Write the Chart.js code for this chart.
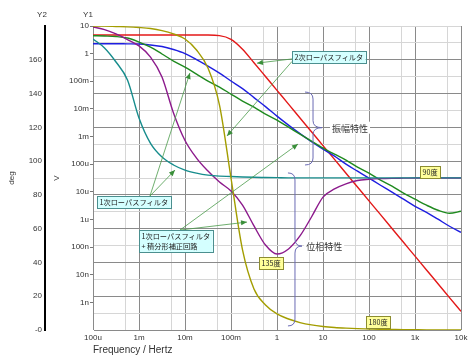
<!DOCTYPE html>
<html><head><meta charset="utf-8">
<script src="https://cdn.jsdelivr.net/npm/chart.js@4.4.1/dist/chart.umd.min.js"></script>
<style>html,body{margin:0;padding:0;background:#fff;}canvas{display:block;}</style>
</head><body>
<canvas id="c" width="474" height="360"></canvas>
<script>
// ---- data ----
const freqs = [1e-4,1.78e-4,3.16e-4,5.62e-4,1e-3,1.78e-3,3.16e-3,5.62e-3,0.01,0.0178,0.0316,0.0562,0.1,0.178,0.316,0.562,1,1.78,3.16,5.62,10,17.8,31.6,56.2,100,178,316,562,1000,1780,3160,5620,10000];
// amplitude (V)
const lpf2Mag = [4.7,4.7,4.7,4.7,4.7,4.7,4.7,4.7,4.7,4.7,4.7,4.5,3.3,1.45,0.47,0.149,0.047,0.0149,0.0047,0.00149,4.7e-4,1.49e-4,4.7e-5,1.49e-5,4.7e-6,1.49e-6,4.7e-7,1.49e-7,4.7e-8,1.49e-8,4.7e-9,1.49e-9,4.7e-10];
const lpf1Mag = [4.46,4.35,4.17,3.67,2.63,1.73,0.97,0.54,0.327,0.182,0.102,0.0616,0.0344,0.0192,0.0116,0.00648,0.00393,0.00219,0.00122,6.8e-4,3.8e-4,2.3e-4,1.4e-4,7.8e-5,4.72e-5,2.63e-5,1.6e-5,8.9e-6,5.4e-6,3.27e-6,2.15e-6,1.68e-6,1.98e-6];
const compMag = [2.29,2.29,2.29,2.26,2.23,2.05,1.81,1.41,1.01,0.611,0.356,0.198,0.102,0.0544,0.0257,0.0121,0.00548,0.00259,0.00127,6.5e-4,3.5e-4,1.95e-4,1.0e-4,5.57e-5,3.11e-5,1.73e-5,9.7e-6,5.4e-6,3.0e-6,1.82e-6,1.02e-6,5.67e-7,3.43e-7];
// phase (deg, shifted by +180)
const lpf1Phase = [172.3,167.0,158.7,148.0,125.5,110.5,102.4,97.7,94.7,92.9,91.7,91.1,90.9,90.6,90.4,90.3,90.2,90.1,90.1,90.1,90.1,90.1,90.1,90.1,90.1,90.1,90.1,90.1,90.1,90.1,90.1,90.1,90.1];
const lpf2Phase = [179.9,179.9,179.7,179.5,179.1,178.5,177.3,175.3,172.3,165.8,155.1,133.2,90.0,47.4,24.3,14.8,9.5,6.5,4.4,3.0,2.1,1.5,1.1,0.8,0.6,0.4,0.3,0.2,0.15,0.1,0.08,0.06,0.04];
const compPhase = [179.4,177.9,175.3,172.0,168.2,161.6,149.8,128.5,112.2,101.8,94.1,87.6,82.3,74.0,61.6,50.3,45.0,48.0,55.7,66.9,78.7,83.5,86.5,88.5,89.2,89.6,89.8,89.9,90.0,90.0,90.0,90.0,90.0];

const xTickValues = [1e-4,5e-4,1e-3,5e-3,1e-2,5e-2,0.1,0.5,1,5,10,50,100,500,1000,5000,10000];
const xTickLabels = ['100u','','1m','','10m','','100m','','1','','10','','100','','1k','','10k'];
const y1TickValues = [10,1,0.1,0.01,1e-3,1e-4,1e-5,1e-6,1e-7,1e-8,1e-9];
const y1TickLabels = ['10','1','100m','10m','1m','100u','10u','1u','100n','10n','1n'];
const y2TickValues = [0,10,20,30,40,50,60,70,80,90,100,110,120,130,140,150,160,170,180];
const y2TickLabels = ['-0','','20','','40','','60','','80','','100','','120','','140','','160','',''];

// ---- chart ----
const FONT = '"Liberation Sans", Arial, sans-serif';
const JP = '"Noto Sans CJK JP", "Noto Sans CJK SC", sans-serif';
Chart.defaults.font.family = FONT;
Chart.defaults.font.size = 8;
Chart.defaults.color = '#333';

const pts = arr => freqs.map((f, i) => ({x: f, y: arr[i]}));
const DARK = '#8a8a8a', LIGHT = '#d6d6d6';
const isDecade = v => Math.abs(Math.log10(v) - Math.round(Math.log10(v))) < 1e-6;

function box(ctx, x, y, lines, bg, border, font) {
  ctx.font = font;
  let w = 0; lines.forEach(t => { w = Math.max(w, ctx.measureText(t).width); });
  const lh = 10, h = lines.length * lh + 2;
  ctx.fillStyle = bg; ctx.fillRect(x, y, w + 5, h);
  ctx.strokeStyle = border; ctx.lineWidth = 1;
  ctx.strokeRect(Math.round(x) + 0.5, Math.round(y) + 0.5, Math.round(w + 5), Math.round(h));
  ctx.fillStyle = '#222'; ctx.textAlign = 'left'; ctx.textBaseline = 'middle';
  lines.forEach((t, i) => ctx.fillText(t, x + 2.5, y + 1 + lh * i + lh / 2 + 0.5));
}
function arrow(ctx, x1, y1, x2, y2) {
  ctx.strokeStyle = '#4a9a4a'; ctx.fillStyle = '#3a8f3a'; ctx.lineWidth = 0.8;
  ctx.beginPath(); ctx.moveTo(x1, y1); ctx.lineTo(x2, y2); ctx.stroke();
  const a = Math.atan2(y2 - y1, x2 - x1), L = 6, W = 2.6;
  ctx.beginPath(); ctx.moveTo(x2, y2);
  ctx.lineTo(x2 - L * Math.cos(a) + W * Math.sin(a), y2 - L * Math.sin(a) - W * Math.cos(a));
  ctx.lineTo(x2 - L * Math.cos(a) - W * Math.sin(a), y2 - L * Math.sin(a) + W * Math.cos(a));
  ctx.closePath(); ctx.fill();
}
function brace(ctx, xl, xm, xt, yt, yc, yb) {
  ctx.strokeStyle = '#6a6ab4'; ctx.lineWidth = 1;
  ctx.beginPath();
  ctx.moveTo(xl, yt);
  ctx.quadraticCurveTo(xm, yt, xm, yt + 7);
  ctx.lineTo(xm, yc - 7);
  ctx.quadraticCurveTo(xm, yc, xt, yc);
  ctx.quadraticCurveTo(xm, yc, xm, yc + 7);
  ctx.lineTo(xm, yb - 7);
  ctx.quadraticCurveTo(xm, yb, xl, yb);
  ctx.stroke();
}

// annotation layout in data coordinates (frequency, deg on Y2)
const notes = {
  lpf2Box: {f: 2.12, d: 165.2, text: ['2次ローパスフィルタ']},
  lpf1Box: {f: 1.22e-4, d: 79.3, text: ['1次ローパスフィルタ']},
  compBox: {f: 1e-3, d: 59.2, text: ['1次ローパスフィルタ', '+ 積分形補正回路']},
  deg90: {f: 1285, d: 97.1, text: ['90度']},
  deg135: {f: 0.406, d: 43.2, text: ['135度']},
  deg180: {f: 86, d: 8.3, text: ['180度']},
  arrows: [
    [2.12, 160.5, 0.367, 158.0],
    [2.12, 159.0, 0.0818, 114.9],
    [1.73e-3, 79.3, 6.06e-3, 94.7],
    [1.73e-3, 79.3, 0.0128, 152.2],
    [7.8e-3, 59.2, 0.223, 63.9],
    [7.8e-3, 59.2, 2.86, 110.1]
  ],
  ampBrace: {fl: 4.06, fm: 6.07, ft: 9.5, dt: 140.9, dc: 119.8, db: 97.7, label: '振幅特性', lf: 15.7},
  phBrace: {fl: 1.73, fm: 2.46, ft: 3.49, dt: 93.0, dc: 49.7, db: 2.4, label: '位相特性', lf: 4.3}
};

const annot = {
  id: 'annot',
  afterDatasetsDraw(chart) {
    const ctx = chart.ctx, sx = chart.scales.x, sy = chart.scales.y2, s1 = chart.scales.y1;
    const X = v => sx.getPixelForValue(v), Y = v => sy.getPixelForValue(v);
    ctx.save();
    // braces
    [notes.ampBrace, notes.phBrace].forEach(b => {
      brace(ctx, X(b.fl), X(b.fm), X(b.ft), Y(b.dt), Y(b.dc), Y(b.db));
      ctx.font = '9px ' + JP;
      const w = ctx.measureText(b.label).width;
      const lx = X(b.lf), ly = Y(b.dc);
      ctx.fillStyle = '#fff'; ctx.fillRect(lx - 2, ly - 6, w + 4, 12);
      ctx.fillStyle = '#333'; ctx.textAlign = 'left'; ctx.textBaseline = 'middle';
      ctx.fillText(b.label, lx, ly + 0.5);
    });
    // arrows
    notes.arrows.forEach(a => arrow(ctx, X(a[0]), Y(a[1]), X(a[2]), Y(a[3])));
    // boxes
    const jf = '7.2px ' + JP;
    [notes.lpf2Box, notes.lpf1Box, notes.compBox].forEach(b => box(ctx, X(b.f), Y(b.d), b.text, '#d4ffff', '#4b8f8f', jf));
    [notes.deg90, notes.deg135, notes.deg180].forEach(b => box(ctx, X(b.f), Y(b.d), b.text, '#ffff9a', '#8c8c30', jf));
    // axis ids
    ctx.font = '8px ' + FONT; ctx.fillStyle = '#333'; ctx.textAlign = 'center'; ctx.textBaseline = 'middle';
    ctx.fillText('Y2', sy.right - 3, chart.chartArea.top - 11);
    ctx.fillText('Y1', s1.right - 5, chart.chartArea.top - 11);
    ctx.restore();
  }
};

const line = (arr, color, axis) => ({
  data: pts(arr), yAxisID: axis, borderColor: color, backgroundColor: color,
  borderWidth: 1.4, pointRadius: 0, cubicInterpolationMode: 'monotone', fill: false
});

new Chart(document.getElementById('c').getContext('2d'), {
  type: 'line',
  data: {
    datasets: [
      line(lpf2Phase, '#a39d00', 'y2'),
      line(lpf1Phase, '#168c8c', 'y2'),
      line(compPhase, '#8c1a8c', 'y2'),
      line(lpf1Mag, '#1f8a1f', 'y1'),
      line(compMag, '#1e1ee0', 'y1'),
      line(lpf2Mag, '#e31818', 'y1')
    ]
  },
  options: {
    responsive: false, animation: false, devicePixelRatio: 1,
    layout: {padding: {left: 0, right: 13, top: 26, bottom: 0}},
    plugins: {legend: {display: false}, tooltip: {enabled: false}},
    scales: {
      x: {
        type: 'logarithmic', min: 1e-4, max: 1e4,
        afterBuildTicks: s => { s.ticks = xTickValues.map(v => ({value: v})); },
        ticks: {autoSkip: false, maxRotation: 0, padding: 3,
          callback: v => { const i = xTickValues.findIndex(t => Math.abs(t - v) / t < 1e-6); return i >= 0 ? xTickLabels[i] : ''; }},
        grid: {drawTicks: false, lineWidth: 1, color: c => (c.tick && isDecade(c.tick.value)) ? DARK : LIGHT},
        border: {display: false},
        title: {display: true, text: 'Frequency / Hertz', align: 'start', font: {size: 10}, padding: {top: 0, bottom: 4}},
        afterFit: s => { s.height = 30; }
      },
      y1: {
        type: 'logarithmic', position: 'left', weight: 0, min: 1e-10, max: 10,
        afterBuildTicks: s => { s.ticks = y1TickValues.map(v => ({value: v})); },
        ticks: {autoSkip: false, padding: 1,
          callback: v => { const i = y1TickValues.findIndex(t => Math.abs(t - v) / t < 1e-6); return i >= 0 ? y1TickLabels[i] : ''; }},
        grid: {drawOnChartArea: false, drawTicks: true, tickLength: 3, color: '#777'},
        border: {display: false},
        title: {display: true, text: 'V', font: {size: 8}, padding: {top: 7, bottom: 0}},
        afterFit: s => { s.width = 48; }
      },
      y2: {
        type: 'linear', position: 'left', weight: 1, min: 0, max: 180,
        afterBuildTicks: s => { s.ticks = y2TickValues.map(v => ({value: v})); },
        ticks: {autoSkip: false, padding: 3,
          callback: v => { const i = y2TickValues.indexOf(v); return i >= 0 ? y2TickLabels[i] : ''; }},
        grid: {drawTicks: false, lineWidth: 1, color: c => (c.tick && c.tick.value % 20 === 0 && c.tick.value !== 180) ? DARK : LIGHT},
        border: {display: true, color: '#000', width: 2},
        title: {display: true, text: 'deg', font: {size: 8}, padding: {top: 7, bottom: 0}},
        afterFit: s => { s.width = 45; }
      }
    }
  },
  plugins: [annot]
});
</script>
</body></html>
